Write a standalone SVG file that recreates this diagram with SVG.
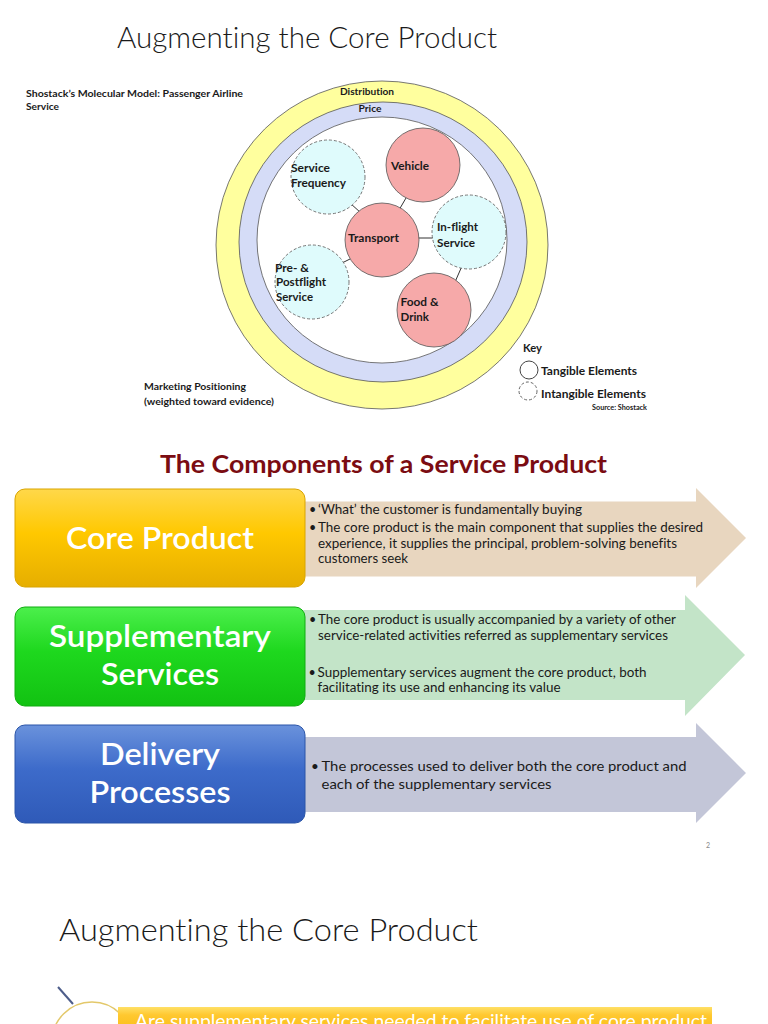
<svg xmlns="http://www.w3.org/2000/svg" width="768" height="1024" viewBox="0 0 768 1024">
<defs>
<linearGradient id="gCore" x1="0" y1="0" x2="0" y2="1">
<stop offset="0" stop-color="#ffd84a"/><stop offset="0.45" stop-color="#ffc800"/><stop offset="1" stop-color="#e6ae00"/>
</linearGradient>
<linearGradient id="gSupp" x1="0" y1="0" x2="0" y2="1">
<stop offset="0" stop-color="#4cef4c"/><stop offset="0.45" stop-color="#1ed81e"/><stop offset="1" stop-color="#12c212"/>
</linearGradient>
<linearGradient id="gDel" x1="0" y1="0" x2="0" y2="1">
<stop offset="0" stop-color="#6a92dc"/><stop offset="0.45" stop-color="#3d6bca"/><stop offset="1" stop-color="#2f5ab8"/>
</linearGradient>
<linearGradient id="gBan" x1="0" y1="0" x2="0" y2="1">
<stop offset="0" stop-color="#ffe066"/><stop offset="0.2" stop-color="#ffc830"/><stop offset="1" stop-color="#f5b400"/>
</linearGradient>
<style>
.t{font-family:Lato,"Open Sans","Liberation Sans",sans-serif;fill:#1a1a1a;font-variant-ligatures:none}
.b{font-weight:bold}
.lt{font-weight:300}
.nd{font-size:10.5px;font-weight:bold}
.sm{font-size:9.5px;font-weight:bold}
.bl{font-size:12.5px}
.bl3{font-size:13.5px}
.box{font-size:30px;font-weight:600;fill:#ffffff}
.red{fill:#f6a9a9;stroke:#555;stroke-width:0.8}
.cy{fill:#dffbfc;stroke:#666;stroke-width:0.9;stroke-dasharray:3 2}
.ring{stroke:#555;stroke-width:0.8}
.con{stroke:#333;stroke-width:1;fill:none}
</style>
</defs>
<rect width="768" height="1024" fill="#ffffff"/>

<text class="t lt" x="117" y="48" font-size="29" textLength="380" lengthAdjust="spacingAndGlyphs">Augmenting the Core Product</text>

<g id="model-title">
<text class="t sm" x="26" y="97" textLength="217" lengthAdjust="spacingAndGlyphs">Shostack’s Molecular Model: Passenger Airline</text>
<text class="t sm" x="26" y="110" textLength="33" lengthAdjust="spacingAndGlyphs">Service</text>
</g>

<g id="ring-distribution">
<ellipse class="ring" cx="382" cy="245" rx="166" ry="164" fill="#ffff9e"/>
<text class="t sm" x="367" y="95" text-anchor="middle" textLength="54" lengthAdjust="spacingAndGlyphs">Distribution</text>
</g>
<g id="ring-price">
<ellipse class="ring" cx="383" cy="242" rx="144" ry="140" fill="#d5dcf7"/>
<text class="t sm" x="370" y="112" text-anchor="middle" textLength="23" lengthAdjust="spacingAndGlyphs">Price</text>
</g>
<g id="ring-core">
<ellipse class="ring" cx="382" cy="240" rx="125" ry="123" fill="#ffffff"/>
</g>

<g id="connectors">
<line class="con" x1="350" y1="203" x2="361" y2="213"/>
<line class="con" x1="406" y1="198" x2="399" y2="210"/>
<line class="con" x1="417" y1="238" x2="434" y2="238"/>
<line class="con" x1="340" y1="264" x2="350" y2="259"/>
<line class="con" x1="462" y1="266" x2="455" y2="282"/>
</g>

<g id="node-service-frequency">
<circle class="cy" cx="328" cy="177" r="37"/>
<text class="t nd" x="291" y="172" textLength="39" lengthAdjust="spacingAndGlyphs">Service</text>
<text class="t nd" x="291" y="187" textLength="55" lengthAdjust="spacingAndGlyphs">Frequency</text>
</g>
<g id="node-vehicle">
<circle class="red" cx="423" cy="165" r="37"/>
<text class="t nd" x="391" y="170" textLength="38" lengthAdjust="spacingAndGlyphs">Vehicle</text>
</g>
<g id="node-transport">
<circle class="red" cx="382" cy="240" r="37"/>
<text class="t nd" x="348" y="241.5" textLength="51" lengthAdjust="spacingAndGlyphs">Transport</text>
</g>
<g id="node-inflight">
<circle class="cy" cx="469" cy="232" r="37"/>
<text class="t nd" x="437" y="230.5" textLength="41" lengthAdjust="spacingAndGlyphs">In-flight</text>
<text class="t nd" x="437" y="247" textLength="38" lengthAdjust="spacingAndGlyphs">Service</text>
</g>
<g id="node-prepost">
<circle class="cy" cx="312" cy="282" r="37"/>
<text class="t nd" x="275" y="271.5" textLength="34" lengthAdjust="spacingAndGlyphs">Pre- &amp;</text>
<text class="t nd" x="276" y="286" textLength="50" lengthAdjust="spacingAndGlyphs">Postflight</text>
<text class="t nd" x="276" y="301" textLength="37" lengthAdjust="spacingAndGlyphs">Service</text>
</g>
<g id="node-food">
<circle class="red" cx="434" cy="310" r="37"/>
<text class="t nd" x="400.5" y="305.5" textLength="38" lengthAdjust="spacingAndGlyphs">Food &amp;</text>
<text class="t nd" x="400.5" y="321" textLength="28.5" lengthAdjust="spacingAndGlyphs">Drink</text>
</g>

<g id="marketing-label">
<text class="t sm" x="144" y="390" textLength="102" lengthAdjust="spacingAndGlyphs">Marketing Positioning</text>
<text class="t sm" x="144" y="405" textLength="130" lengthAdjust="spacingAndGlyphs">(weighted toward evidence)</text>
</g>

<g id="key">
<text class="t b" x="523" y="352" font-size="10.5" textLength="19" lengthAdjust="spacingAndGlyphs">Key</text>
<circle cx="529" cy="370" r="9" fill="#ffffff" stroke="#444" stroke-width="1"/>
<text class="t b" x="541" y="374.5" font-size="10.5" textLength="96" lengthAdjust="spacingAndGlyphs">Tangible Elements</text>
<circle cx="528" cy="391" r="9" fill="#ffffff" stroke="#666" stroke-width="1" stroke-dasharray="3 2"/>
<text class="t b" x="541" y="398" font-size="10.5" textLength="105" lengthAdjust="spacingAndGlyphs">Intangible Elements</text>
<text class="t b" x="592" y="410" font-size="6.5" textLength="55" lengthAdjust="spacingAndGlyphs">Source: Shostack</text>
</g>

<text class="t b" x="160" y="473" font-size="24" style="fill:#7b0c12" textLength="447" lengthAdjust="spacingAndGlyphs">The Components of a Service Product</text>

<g id="arrow-core">
<path d="M300,501.5 H696 V488 L746,538 L696,588 V576.5 H300 Z" fill="#e8d6bf"/>
<text class="t bl" x="309" y="514">•</text>
<text class="t bl" x="318" y="514" textLength="264" lengthAdjust="spacingAndGlyphs">‘What’ the customer is fundamentally buying</text>
<text class="t bl" x="309" y="532">•</text>
<text class="t bl" x="318" y="532" textLength="385" lengthAdjust="spacingAndGlyphs">The core product is the main component that supplies the desired</text>
<text class="t bl" x="318" y="548" textLength="359" lengthAdjust="spacingAndGlyphs">experience, it supplies the principal, problem-solving benefits</text>
<text class="t bl" x="318" y="563" textLength="90" lengthAdjust="spacingAndGlyphs">customers seek</text>
</g>
<g id="node-core-product">
<rect x="15" y="489" width="290" height="98" rx="10" fill="url(#gCore)" stroke="#d9a400" stroke-width="1"/>
<text class="t box" x="160" y="549" text-anchor="middle" textLength="188" lengthAdjust="spacingAndGlyphs">Core Product</text>
</g>

<g id="arrow-supp">
<path d="M300,610 H685 V595 L745,655 L685,716 V700 H300 Z" fill="#c3e4c8"/>
<text class="t bl" x="309" y="624">•</text>
<text class="t bl" x="318" y="624" textLength="358" lengthAdjust="spacingAndGlyphs">The core product is usually accompanied by a variety of other</text>
<text class="t bl" x="318" y="639.5" textLength="350" lengthAdjust="spacingAndGlyphs">service-related activities referred as supplementary services</text>
<text class="t bl" x="308.5" y="676.5">•</text>
<text class="t bl" x="317.5" y="676.5" textLength="329" lengthAdjust="spacingAndGlyphs">Supplementary services augment the core product, both</text>
<text class="t bl" x="317.5" y="692" textLength="243" lengthAdjust="spacingAndGlyphs">facilitating its use and enhancing its value</text>
</g>
<g id="node-supplementary">
<rect x="15" y="607" width="290" height="99" rx="10" fill="url(#gSupp)" stroke="#10ad10" stroke-width="1"/>
<text class="t box" x="160" y="647" text-anchor="middle" textLength="222" lengthAdjust="spacingAndGlyphs">Supplementary</text>
<text class="t box" x="160" y="685" text-anchor="middle" textLength="118" lengthAdjust="spacingAndGlyphs">Services</text>
</g>

<g id="arrow-delivery">
<path d="M300,737 H696 V723 L746,773 L696,823 V812 H300 Z" fill="#c3c6d8"/>
<text class="t bl3" x="311" y="771">•</text>
<text class="t bl3" x="321.5" y="771" textLength="365" lengthAdjust="spacingAndGlyphs">The processes used to deliver both the core product and</text>
<text class="t bl3" x="321.5" y="789" textLength="230" lengthAdjust="spacingAndGlyphs">each of the supplementary services</text>
</g>
<g id="node-delivery">
<rect x="15" y="725" width="290" height="98" rx="10" fill="url(#gDel)" stroke="#2b55a8" stroke-width="1"/>
<text class="t box" x="160" y="765" text-anchor="middle" textLength="120" lengthAdjust="spacingAndGlyphs">Delivery</text>
<text class="t box" x="160" y="803" text-anchor="middle" textLength="141" lengthAdjust="spacingAndGlyphs">Processes</text>
</g>

<text class="t" x="706" y="848" font-size="7" style="fill:#888">2</text>

<text class="t lt" x="59" y="941" font-size="31" textLength="419" lengthAdjust="spacingAndGlyphs">Augmenting the Core Product</text>

<g id="bottom-item">
<line x1="58" y1="987" x2="73" y2="1004" stroke="#4d5d8a" stroke-width="2"/>
<circle cx="92" cy="1042" r="40" fill="#ffffff" stroke="#e3c86a" stroke-width="1.5"/>
<rect x="118" y="1007" width="594" height="40" fill="url(#gBan)"/>
<text class="t" x="135" y="1028" font-size="20" style="fill:#ffffff" textLength="572" lengthAdjust="spacingAndGlyphs">Are supplementary services needed to facilitate use of core product</text>
</g>
</svg>
